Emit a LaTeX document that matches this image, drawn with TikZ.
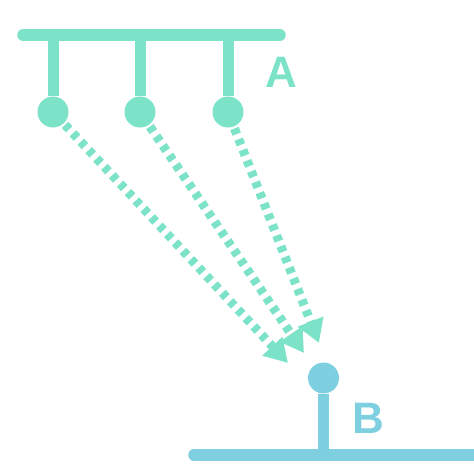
\documentclass[tikz,border=0pt]{standalone}
\usepackage{fontspec}
\setmainfont{Liberation Sans}
\usetikzlibrary{arrows.meta}

\definecolor{mint}{HTML}{7DE3C8}
\definecolor{skyblue}{HTML}{7ECFE0}

\begin{document}
\begin{tikzpicture}[x=1pt, y=-1pt,
    bar/.style={line width=11.5pt, line cap=round},
    stem/.style={line width=11pt},
    knob/.style={circle, inner sep=0pt, minimum size=31pt},
    ray/.style={line width=9pt, dash pattern=on 6pt off 5.5pt,
                -{Triangle[length=23pt, width=26pt]}, shorten <=2pt},
    letter/.style={font=\fontsize{44}{44}\selectfont\bfseries}
]

    \useasboundingbox (0,0) rectangle (474,474);

    % Source bar A
    \coordinate (aL) at (23,35);
    \coordinate (aR) at (280,35);
    \draw[bar, mint] (aL) -- (aR);
    \foreach \i/\x in {1/53, 2/140, 3/228} {
        \coordinate (s\i) at (\x,35);
        \node[knob, fill=mint] (a\i) at (\x,112) {};
        \draw[stem, mint] (s\i) -- (a\i);
    }
    \node[letter, text=mint] (labA) at (281,72) {A};

    % Arrow tips near B
    \coordinate (t1) at (288,363);
    \coordinate (t2) at (304,353);
    \coordinate (t3) at (319,343);

    % Dashed rays
    \draw[ray, mint] (a1) -- (t1);
    \draw[ray, mint] (a2) -- (t2);
    \draw[ray, mint] (a3) -- (t3);

    % Target bar B
    \coordinate (bL) at (194,455);
    \coordinate (bR) at (480,455);
    \draw[bar, skyblue] (bL) -- (bR);
    \node[knob, fill=skyblue] (b) at (323.5,378) {};
    \coordinate (bs) at (323.5,455);
    \draw[stem, skyblue] (bs) -- (b);
    \node[letter, text=skyblue] (labB) at (368,418) {B};

\end{tikzpicture}
\end{document}
